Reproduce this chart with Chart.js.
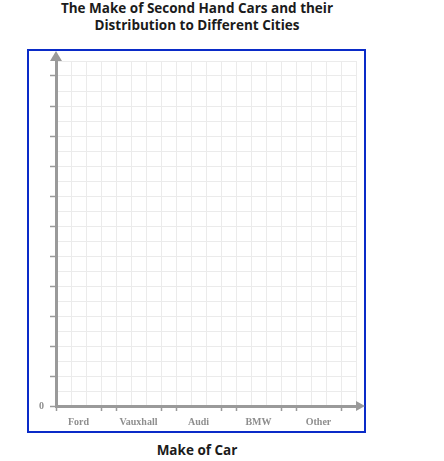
<!DOCTYPE html>
<html><head><meta charset="utf-8">
<script src="https://cdn.jsdelivr.net/npm/chart.js@4"></script>
<style>
html,body{margin:0;padding:0;background:#fff;width:444px;height:461px;overflow:hidden;}
#title{position:absolute;left:0;top:0px;width:394px;text-align:center;font:bold 13.5px 'Open Sans',sans-serif;line-height:17px;color:#1b1b1b;}
#box{position:absolute;left:27px;top:49px;width:335px;height:380px;border:2.5px solid #0a2bc8;}
#xtitle{position:absolute;left:0;top:442px;width:394px;text-align:center;font:bold 13.5px 'Open Sans',sans-serif;line-height:17px;color:#1b1b1b;}
#wrap{position:absolute;left:0;top:0;width:444px;height:461px;}
</style></head>
<body>
<div id="title">The Make of Second Hand Cars and their<br>Distribution to Different Cities</div>
<div id="box"></div>
<div id="xtitle">Make of Car</div>
<div id="wrap"><canvas id="c" width="444" height="461"></canvas></div>
<script>
// ---- data ----
const categories = ['Ford', 'Vauxhall', 'Audi', 'BMW', 'Other'];
const frequencies = [null, null, null, null, null];   // blank chart: no values plotted
const yLabelledValues = [0];                           // only "0" is labelled on the y axis
const yMax = 23;
const xMax = 20;

// ---- layout helpers (grid units) ----
const barUnits = 3, slotUnits = 4;
const catStart = i => i * slotUnits;
const catCenter = i => i * slotUnits + barUnits / 2;
const edgeValues = new Set();
categories.forEach((c, i) => { edgeValues.add(catStart(i)); edgeValues.add(catStart(i) + barUnits); });

const GRID = '#ebebeb', AXIS = '#9a9a9a', LABEL = '#8e8e8e';

const arrows = {
  id: 'arrows',
  afterDraw(chart) {
    const ctx = chart.ctx, ca = chart.chartArea;
    const x0 = chart.scales.y.right, y0 = chart.scales.x.top;
    ctx.save();
    ctx.fillStyle = AXIS;
    ctx.beginPath();
    ctx.moveTo(x0 - 6, ca.top); ctx.lineTo(x0 + 6, ca.top); ctx.lineTo(x0, ca.top - 10);
    ctx.closePath(); ctx.fill();
    ctx.beginPath();
    ctx.moveTo(ca.right, y0 - 5); ctx.lineTo(ca.right, y0 + 5); ctx.lineTo(ca.right + 9, y0);
    ctx.closePath(); ctx.fill();
    ctx.restore();
  }
};

new Chart(document.getElementById('c'), {
  type: 'bar',
  data: {
    datasets: [{
      data: categories.map((c, i) => ({ x: catCenter(i), y: frequencies[i] })),
      backgroundColor: '#4a6fd8'
    }]
  },
  options: {
    responsive: false,
    animation: false,
    layout: { padding: { left: 0, top: 61, right: 88, bottom: 0 } },
    plugins: { legend: { display: false }, tooltip: { enabled: false }, title: { display: false } },
    scales: {
      x: {
        type: 'linear', min: 0, max: xMax, offset: false,
        afterFit(s) { s.height = 55; },
        afterBuildTicks(s) {
          const vals = [];
          for (let v = 0; v <= xMax; v++) vals.push(v);
          categories.forEach((c, i) => vals.push(catCenter(i)));
          vals.sort((a, b) => a - b);
          s.ticks = vals.map(v => ({ value: v }));
        },
        ticks: {
          autoSkip: false, maxRotation: 0, minRotation: 0, padding: 5,
          color: LABEL,
          font: { family: "'Liberation Serif', serif", size: 10, weight: 'bold' },
          callback(v) {
            const i = categories.findIndex((c, k) => catCenter(k) === v);
            return i >= 0 ? categories[i] : '';
          }
        },
        grid: {
          offset: false,
          color: c => (c.tick && Number.isInteger(c.tick.value)) ? GRID : 'rgba(0,0,0,0)',
          tickColor: c => (c.tick && edgeValues.has(c.tick.value)) ? AXIS : 'rgba(0,0,0,0)',
          tickLength: 5, tickWidth: 1.5, lineWidth: 1
        },
        border: { display: true, color: AXIS, width: 3 }
      },
      y: {
        type: 'linear', min: 0, max: yMax,
        afterFit(s) { s.width = 56; },
        ticks: {
          stepSize: 1, autoSkip: false, padding: 6, color: LABEL,
          font: { family: "'Liberation Serif', serif", size: 10, weight: 'bold' },
          callback: v => yLabelledValues.includes(v) ? String(v) : ''
        },
        grid: {
          color: GRID, lineWidth: 1,
          tickColor: c => (c.tick && c.tick.value % 2 === 0) ? AXIS : 'rgba(0,0,0,0)',
          tickLength: 6, tickWidth: 1.5
        },
        border: { display: true, color: AXIS, width: 3 }
      }
    }
  },
  plugins: [arrows]
});
</script>
</body></html>
